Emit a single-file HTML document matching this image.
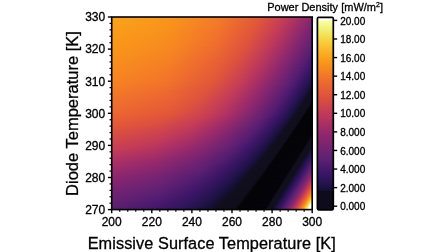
<!DOCTYPE html>
<html><head><meta charset="utf-8"><style>
html,body{margin:0;padding:0;background:#fff;width:448px;height:252px;overflow:hidden}
#f{position:absolute;left:112px;top:17px;width:200px;height:193px}
#f i{display:block;height:1px;width:200px}
</style></head><body>
<div id="f">
<i style="background:linear-gradient(90deg,#faa31c 0.5px,#f9941b 64.0px,#f37729 112.5px,#e15639 149.0px,#c0395a 175.0px,#8a266f 199.5px)"></i>
<i style="background:linear-gradient(90deg,#faa31c 0.5px,#f9941b 62.5px,#f37828 109.5px,#e25738 147.0px,#c23a59 173.5px,#882670 199.5px)"></i>
<i style="background:linear-gradient(90deg,#faa11b 0.5px,#f9951a 56.5px,#f47c26 104.5px,#e35937 144.0px,#d1454b 162.5px,#b13362 181.0px,#872670 199.5px)"></i>
<i style="background:linear-gradient(90deg,#faa11b 0.5px,#f9951a 55.5px,#f47a27 106.0px,#e35838 145.0px,#c43c57 170.5px,#96296c 192.0px,#852570 199.5px)"></i>
<i style="background:linear-gradient(90deg,#faa11b 0.5px,#f9941b 59.0px,#f37828 107.0px,#e15639 146.5px,#c0395a 172.5px,#832570 199.5px)"></i>
<i style="background:linear-gradient(90deg,#faa11b 0.5px,#f9921c 62.5px,#f2752a 110.5px,#e0553a 147.0px,#c0395a 172.0px,#822571 199.5px)"></i>
<i style="background:linear-gradient(90deg,#faa11b 0.5px,#f9921c 61.0px,#f37729 107.5px,#e25738 144.0px,#c23a59 170.5px,#832570 198.0px,#802471 199.5px)"></i>
<i style="background:linear-gradient(90deg,#fa9f1a 0.5px,#f9941b 55.5px,#f37828 105.0px,#e15639 144.5px,#c33b58 169.0px,#852570 197.0px,#7f2471 199.5px)"></i>
<i style="background:linear-gradient(90deg,#fa9f1a 0.5px,#f9921c 59.0px,#f37729 106.0px,#e25738 142.5px,#c0395a 170.0px,#822571 197.5px,#7d2471 199.5px)"></i>
<i style="background:linear-gradient(90deg,#fa9f1a 0.5px,#f9921c 57.5px,#f37729 105.5px,#e15639 143.0px,#c23a59 168.5px,#872670 195.0px,#7b2471 199.5px)"></i>
<i style="background:linear-gradient(90deg,#fa9f1a 0.5px,#f8901d 61.0px,#f2752a 106.5px,#e15639 142.5px,#c23a59 168.0px,#852670 195.5px,#7a2372 199.5px)"></i>
<i style="background:linear-gradient(90deg,#fa9d19 0.5px,#f9941b 50.0px,#f47a27 99.5px,#e25838 139.5px,#c63d56 165.0px,#93286d 188.5px,#782372 199.5px)"></i>
<i style="background:linear-gradient(90deg,#fa9d1a 0.5px,#f9921c 54.0px,#f37729 103.0px,#e15639 141.5px,#c0395a 167.5px,#832570 194.5px,#772372 199.5px)"></i>
<i style="background:linear-gradient(90deg,#fa9d1a 0.5px,#f8901d 57.5px,#f2752a 104.5px,#e15639 140.5px,#c0395a 167.0px,#802471 195.0px,#752372 199.5px)"></i>
<i style="background:linear-gradient(90deg,#fa9d1a 0.5px,#f8901d 56.5px,#f2752a 103.5px,#e0553a 141.0px,#c23a59 165.5px,#832570 193.5px,#742272 199.5px)"></i>
<i style="background:linear-gradient(90deg,#fa9d1a 0.5px,#f88e1e 59.5px,#f1722b 107.0px,#df533b 141.5px,#be385b 166.5px,#7f2471 194.5px,#722272 199.5px)"></i>
<i style="background:linear-gradient(90deg,#fa9b19 0.5px,#f9921c 49.0px,#f37828 98.0px,#e25738 137.5px,#c0395a 165.5px,#832570 192.0px,#712272 199.5px)"></i>
<i style="background:linear-gradient(90deg,#fa9b19 0.5px,#f8901d 52.5px,#f37729 99.0px,#e15639 138.0px,#c0395a 164.5px,#822571 192.0px,#6f2273 199.5px)"></i>
<i style="background:linear-gradient(90deg,#fa9b19 0.5px,#f88e1e 56.0px,#f2742a 102.5px,#e0553a 138.5px,#c23a59 163.0px,#822571 191.5px,#6d2273 199.5px)"></i>
<i style="background:linear-gradient(90deg,#fa9b19 0.5px,#f78c1f 59.5px,#f1712c 105.5px,#df533b 139.0px,#bd385c 165.0px,#802471 191.5px,#6e2273 199.5px)"></i>
<i style="background:linear-gradient(90deg,#fa9b1a 0.5px,#f88c1f 58.0px,#f1722b 103.0px,#df533b 138.5px,#be385b 163.5px,#802471 191.0px,#6c2273 199.5px)"></i>
<i style="background:linear-gradient(90deg,#fa9919 0.5px,#f88e1e 52.5px,#f2752a 98.0px,#e15639 135.5px,#c0395a 162.0px,#832570 189.5px,#6a2273 199.5px)"></i>
<i style="background:linear-gradient(90deg,#fa9919 0.5px,#f88e1e 51.5px,#f2742a 99.5px,#df533b 137.0px,#c23a59 160.5px,#822571 189.0px,#692273 199.5px)"></i>
<i style="background:linear-gradient(90deg,#fa9919 0.5px,#f88c1f 54.5px,#f2742a 98.5px,#e0553a 135.5px,#be385b 162.0px,#802471 189.0px,#672273 199.5px)"></i>
<i style="background:linear-gradient(90deg,#fa991a 0.5px,#f78b1f 58.0px,#ef6e2d 105.5px,#dc513e 138.0px,#be385b 161.0px,#7f2471 189.0px,#642173 199.5px)"></i>
<i style="background:linear-gradient(90deg,#fa991a 0.5px,#f78920 61.0px,#ef6c2e 107.0px,#dd513e 137.5px,#be385b 160.5px,#802471 188.0px,#632173 199.5px)"></i>
<i style="background:linear-gradient(90deg,#f9971a 0.5px,#f88c1f 51.0px,#f2742a 96.5px,#e0553a 133.5px,#c0395a 159.0px,#832570 186.0px,#612173 199.5px)"></i>
<i style="background:linear-gradient(90deg,#f9971a 0.5px,#f78b1f 54.5px,#f1712c 99.5px,#df533b 134.0px,#bd385c 160.0px,#802571 187.0px,#602173 199.5px)"></i>
<i style="background:linear-gradient(90deg,#f9971a 0.5px,#f78920 57.5px,#ef6e2e 102.5px,#dc513e 135.5px,#be385b 158.5px,#802471 186.0px,#5e2173 199.5px)"></i>
<i style="background:linear-gradient(90deg,#f9971a 0.5px,#f78721 60.5px,#ee6b2f 105.5px,#dd513e 135.0px,#bd385c 159.0px,#7f2471 186.0px,#5d2173 199.5px)"></i>
<i style="background:linear-gradient(90deg,#f9971a 0.5px,#f68622 63.0px,#eb6531 111.5px,#dc513e 134.0px,#c0395a 156.5px,#832570 184.0px,#5b2072 199.5px)"></i>
<i style="background:linear-gradient(90deg,#f9951a 0.5px,#f78b1f 50.0px,#f1712c 96.5px,#de523c 132.5px,#bd385c 157.5px,#7f2471 185.0px,#592072 199.5px)"></i>
<i style="background:linear-gradient(90deg,#f9951a 0.5px,#f78920 53.0px,#ef6e2d 99.5px,#dd513e 133.0px,#be385b 156.0px,#802471 183.5px,#581f72 199.5px)"></i>
<i style="background:linear-gradient(90deg,#f9951a 0.5px,#f68622 59.5px,#ec6731 107.5px,#dc513e 132.0px,#be385b 155.5px,#7f2471 183.5px,#561f72 199.5px)"></i>
<i style="background:linear-gradient(90deg,#f9941a 0.5px,#f78920 49.5px,#f06f2d 96.0px,#de523c 130.0px,#be385b 155.0px,#822571 182.0px,#551e71 199.5px)"></i>
<i style="background:linear-gradient(90deg,#f9941b 0.5px,#f68622 56.5px,#ed6830 104.0px,#dc513e 130.5px,#be385b 154.0px,#802571 182.0px,#531d71 199.5px)"></i>
<i style="background:linear-gradient(90deg,#f9941b 0.5px,#f68422 59.0px,#ea6332 110.0px,#db503f 131.0px,#bb375d 155.0px,#7f2471 182.0px,#511c71 199.5px)"></i>
<i style="background:linear-gradient(90deg,#f9921b 0.5px,#f78721 49.0px,#ef6e2d 95.0px,#dc513e 129.0px,#bd385c 153.5px,#7f2471 181.0px,#531d71 198.5px,#501b70 199.5px)"></i>
<i style="background:linear-gradient(90deg,#f9921b 0.5px,#f68422 56.0px,#eb6432 106.5px,#dd513e 128.5px,#bd385c 153.0px,#802571 180.0px,#531d71 197.5px,#4e1a70 199.5px)"></i>
<i style="background:linear-gradient(90deg,#f9921b 0.5px,#f68223 58.0px,#e96233 109.0px,#dc513e 127.5px,#bd385c 152.5px,#822571 179.0px,#511c71 197.5px,#4d1a6f 199.5px)"></i>
<i style="background:linear-gradient(90deg,#f8901c 0.5px,#f68422 52.5px,#ed6830 99.5px,#dd513e 127.0px,#bd385c 151.5px,#802471 178.5px,#531d71 196.5px,#4b196f 199.5px)"></i>
<i style="background:linear-gradient(90deg,#f8901c 0.5px,#f68223 55.0px,#eb6531 102.0px,#dc513e 126.0px,#bd385c 151.0px,#7f2471 178.5px,#531d71 196.0px,#49186e 199.5px)"></i>
<i style="background:linear-gradient(90deg,#f8901c 0.5px,#f58124 57.5px,#e85f34 109.5px,#db503f 126.5px,#bd385c 150.5px,#822571 177.0px,#511c71 196.0px,#46176d 199.5px)"></i>
<i style="background:linear-gradient(90deg,#f8901d 0.5px,#f57f25 59.5px,#e75e35 110.0px,#da4e40 127.0px,#bb375d 150.5px,#802571 177.0px,#511c71 195.0px,#44176c 199.5px)"></i>
<i style="background:linear-gradient(90deg,#f88e1d 0.5px,#f58124 54.5px,#e86034 106.0px,#db503f 125.0px,#bd385c 149.0px,#7f2471 176.5px,#531d71 194.0px,#42166b 199.5px)"></i>
<i style="background:linear-gradient(90deg,#f88e1e 0.5px,#f57f25 57.0px,#e75e35 108.5px,#da4e40 125.5px,#bb375d 149.0px,#7d2471 176.5px,#531d71 193.5px,#41166a 199.5px)"></i>
<i style="background:linear-gradient(90deg,#f88e1e 0.5px,#f57d26 59.0px,#e65d35 109.0px,#da4e40 124.5px,#bd385c 147.5px,#802571 175.0px,#511c71 193.5px,#3f1669 199.5px)"></i>
<i style="background:linear-gradient(90deg,#f88c1f 0.5px,#f57f25 54.0px,#e75e35 106.5px,#db503f 122.5px,#be385b 146.0px,#802471 174.0px,#511c71 192.5px,#3d1568 199.5px)"></i>
<i style="background:linear-gradient(90deg,#f88c1f 0.5px,#f57d26 56.0px,#e65d35 107.5px,#d94d42 124.5px,#bb375d 147.0px,#7f2471 174.0px,#531d71 191.5px,#3c1567 199.5px)"></i>
<i style="background:linear-gradient(90deg,#f78c1f 0.5px,#f47c26 58.5px,#e55c36 108.0px,#d84c43 124.5px,#bb375d 146.5px,#7d2471 174.0px,#531d71 191.0px,#3a1566 199.5px)"></i>
<i style="background:linear-gradient(90deg,#f78a20 0.5px,#f57d25 53.5px,#e75e35 104.0px,#da4e40 121.5px,#bb375d 145.5px,#7d2471 173.5px,#511c71 190.5px,#381564 199.5px)"></i>
<i style="background:linear-gradient(90deg,#f78b20 0.5px,#f47c26 55.5px,#e65d35 105.0px,#d94d42 122.0px,#bb375d 145.0px,#7f2471 172.0px,#511c71 190.0px,#361563 199.5px)"></i>
<i style="background:linear-gradient(90deg,#f78b1f 0.5px,#f47a27 57.5px,#e55c36 105.5px,#d84c43 122.5px,#ba365e 145.0px,#7d2471 172.5px,#531d71 189.0px,#361563 198.5px,#351561 199.5px)"></i>
<i style="background:linear-gradient(90deg,#f78920 0.5px,#f47c26 52.5px,#e65d36 103.0px,#d94d42 120.5px,#bb375d 143.5px,#7d2471 171.5px,#531d71 188.5px,#351561 198.5px,#331560 199.5px)"></i>
<i style="background:linear-gradient(90deg,#f78920 0.5px,#f47a27 55.0px,#e55c36 104.0px,#d84c43 121.0px,#bb375d 143.0px,#7f2471 170.5px,#511c71 188.0px,#351561 198.0px,#2f155c 199.5px)"></i>
<i style="background:linear-gradient(90deg,#f78920 0.5px,#f37828 57.0px,#e45a37 104.5px,#d64a46 122.5px,#ba365e 143.0px,#7d2471 170.5px,#511c71 187.5px,#351561 197.5px,#2d155a 199.5px)"></i>
<i style="background:linear-gradient(90deg,#f78721 0.5px,#f47a27 52.0px,#e55c36 102.0px,#d94d42 118.5px,#bb375d 141.5px,#7d2471 169.5px,#531d71 186.5px,#361563 196.0px,#2c1558 199.5px)"></i>
<i style="background:linear-gradient(90deg,#f78721 0.5px,#f37828 54.0px,#e45a37 103.0px,#d54947 122.0px,#b8355f 142.5px,#7b2471 170.0px,#531d71 186.0px,#351561 196.0px,#2a1556 199.5px)"></i>
<i style="background:linear-gradient(90deg,#f78721 0.5px,#f37729 56.0px,#e35937 103.5px,#cd424f 128.0px,#ac3164 147.5px,#6f2273 174.0px,#501b70 186.5px,#331560 196.0px,#281554 199.5px)"></i>
<i style="background:linear-gradient(90deg,#f68522 0.5px,#f37828 51.5px,#e45a37 101.0px,#d84c43 117.0px,#b8355f 141.5px,#7d2471 167.5px,#531d71 184.5px,#361563 194.5px,#271451 199.5px)"></i>
<i style="background:linear-gradient(90deg,#f68522 0.5px,#f2752a 57.0px,#e25838 103.0px,#c83f53 130.5px,#a22d68 151.0px,#612173 178.5px,#3d1568 191.5px,#25144f 199.5px)"></i>
<i style="background:linear-gradient(90deg,#f68622 0.5px,#f2752a 55.5px,#e25838 102.5px,#c63d56 131.5px,#a12c69 151.0px,#602173 178.5px,#3d1568 191.0px,#23144d 199.5px)"></i>
<i style="background:linear-gradient(90deg,#f68423 0.5px,#f37729 50.5px,#e45a37 98.5px,#d74b44 116.0px,#b8355f 139.0px,#7a2372 167.0px,#511c71 183.0px,#351561 193.0px,#21144a 199.5px)"></i>
<i style="background:linear-gradient(90deg,#f68422 0.5px,#f2742a 56.0px,#e25738 102.0px,#c63d56 130.5px,#98296c 153.5px,#581f72 180.0px,#3a1566 190.5px,#23144d 198.0px,#201348 199.5px)"></i>
<i style="background:linear-gradient(90deg,#f68422 0.5px,#f1722b 58.0px,#e15639 103.0px,#c43c57 130.5px,#96296c 153.5px,#561f72 180.0px,#381564 190.5px,#22144a 198.0px,#1e1345 199.5px)"></i>
<i style="background:linear-gradient(90deg,#f68223 0.5px,#f1722b 56.0px,#e15639 101.5px,#c63d56 128.5px,#9f2c69 149.0px,#5e2173 176.5px,#3c1567 189.0px,#22144a 197.5px,#1c1242 199.5px)"></i>
<i style="background:linear-gradient(90deg,#f58024 0.5px,#f2742a 50.5px,#e25838 97.5px,#c83e53 126.0px,#a12c69 147.5px,#602173 175.0px,#3d1568 187.5px,#271451 195.0px,#1b1240 199.5px)"></i>
<i style="background:linear-gradient(90deg,#f58124 0.5px,#f1712c 55.0px,#e15639 99.5px,#c43c57 128.0px,#95286d 152.0px,#561f72 178.0px,#381564 188.5px,#1e1345 197.5px,#18113b 199.5px)"></i>
<i style="background:linear-gradient(90deg,#f57f25 0.5px,#f1712c 53.0px,#e15639 98.5px,#c43c57 127.0px,#9a2a6b 149.0px,#592072 176.5px,#3a1566 187.5px,#22144a 195.5px,#161038 199.5px)"></i>
<i style="background:linear-gradient(90deg,#f57f25 0.5px,#ef6e2d 57.5px,#df533b 100.0px,#c33b58 127.0px,#92286d 152.0px,#551e71 177.5px,#361563 188.0px,#1e1345 196.0px,#150f35 199.5px)"></i>
<i style="background:linear-gradient(90deg,#f57d26 0.5px,#f06f2d 52.0px,#e0553a 97.5px,#c23a59 127.5px,#882670 155.5px,#531d71 177.5px,#351561 188.0px,#161038 198.5px,#130f2e 199.5px)"></i>
<i style="background:linear-gradient(90deg,#f57d25 0.5px,#ee6b2f 59.5px,#de523c 99.5px,#c0395a 127.5px,#822571 157.5px,#511c71 177.0px,#351561 187.0px,#1c1242 195.5px,#140f34 198.5px,#110f24 199.5px)"></i>
<i style="background:linear-gradient(90deg,#f47c27 0.5px,#ef6c2e 54.5px,#de523c 98.5px,#c0395a 126.5px,#882670 154.0px,#531d71 176.0px,#361563 186.0px,#1e1345 194.0px,#140f32 198.0px,#110f1e 199.5px)"></i>
<i style="background:linear-gradient(90deg,#f47a28 0.5px,#ef6e2d 49.0px,#e0553a 94.0px,#c63d56 121.5px,#a12c69 142.0px,#602173 170.5px,#3d1568 183.0px,#25144f 191.0px,#150f35 197.0px,#110f1d 199.0px,#110f1d 199.5px)"></i>
<i style="background:linear-gradient(90deg,#f47a27 0.5px,#ed692f 56.5px,#de523c 96.0px,#c0395a 125.0px,#802471 156.0px,#511c71 175.0px,#351561 185.0px,#22144a 191.5px,#150f34 196.5px,#110f20 198.0px,#110f1d 199.5px)"></i>
<i style="background:linear-gradient(90deg,#f37828 0.5px,#ee6b2f 51.5px,#de523c 95.0px,#c0395a 124.0px,#8a266f 151.0px,#531d71 174.0px,#361563 184.0px,#201348 191.5px,#140f33 196.0px,#110f1e 197.5px,#110f1d 199.5px)"></i>
<i style="background:linear-gradient(90deg,#f37828 0.5px,#eb6531 61.5px,#dc513e 95.0px,#c23a59 122.0px,#8d276f 149.0px,#531d71 173.0px,#361563 183.5px,#1d1343 192.0px,#140f31 195.5px,#110f1e 197.0px,#110f1d 199.5px)"></i>
<i style="background:linear-gradient(90deg,#f37729 0.5px,#ec6731 57.0px,#dc513e 94.0px,#c23a59 121.0px,#92286d 146.0px,#551e71 172.0px,#361563 182.5px,#1e1345 191.0px,#150f35 194.5px,#110f1d 196.5px,#110f1d 199.5px)"></i>
<i style="background:linear-gradient(90deg,#f37729 0.5px,#ea6332 63.5px,#dd513e 93.0px,#c23a59 120.0px,#93286d 144.5px,#551e71 171.0px,#381564 181.5px,#22144a 189.0px,#140f34 194.0px,#110f1f 195.5px,#110f1d 199.5px)"></i>
<i style="background:linear-gradient(90deg,#f2752a 0.5px,#eb6432 59.0px,#dd513e 92.0px,#c0395a 120.5px,#872670 149.5px,#511c71 172.0px,#351561 182.0px,#1e1345 189.5px,#140f32 193.5px,#110f1e 195.0px,#110f1d 199.5px)"></i>
<i style="background:linear-gradient(90deg,#f2742b 0.5px,#eb6631 54.5px,#dc513e 90.5px,#c0395a 119.5px,#8a266f 147.5px,#531d71 170.5px,#361563 180.5px,#23144d 187.0px,#150f35 192.5px,#110f1d 194.5px,#110f1d 199.5px)"></i>
<i style="background:linear-gradient(90deg,#f2742a 0.5px,#e96233 61.0px,#dd513e 89.5px,#c0395a 118.5px,#8f276e 144.5px,#531d71 170.0px,#361563 180.0px,#1c1242 189.0px,#150f34 192.0px,#110f20 193.5px,#110f1d 199.5px)"></i>
<i style="background:linear-gradient(90deg,#f1722b 0.5px,#ea6332 56.5px,#dd513e 88.5px,#c0395a 117.5px,#8d276f 144.5px,#531d71 169.0px,#361563 179.5px,#1e1345 187.5px,#140f33 191.5px,#110f1e 193.0px,#110f1d 199.5px)"></i>
<i style="background:linear-gradient(90deg,#f1722b 0.5px,#e86034 60.0px,#dd513e 87.0px,#c0395a 117.0px,#872670 146.5px,#531d71 168.5px,#361563 178.5px,#201348 186.5px,#140f31 191.0px,#110f1e 192.5px,#110f1d 199.5px)"></i>
<i style="background:linear-gradient(90deg,#f0712c 0.5px,#e86034 58.5px,#db503f 87.5px,#be385b 117.0px,#852570 146.5px,#511c71 168.5px,#351561 178.5px,#1c1242 187.0px,#150f35 190.0px,#110f1d 192.0px,#100e1b 199.5px)"></i>
<i style="background:linear-gradient(90deg,#f1712c 0.5px,#e75e35 62.0px,#db503f 86.5px,#be385b 116.0px,#852570 146.0px,#531d71 167.0px,#361563 177.5px,#201348 185.0px,#140f34 189.5px,#110f1f 191.0px,#0f0d1a 199.0px,#0b0a14 199.5px)"></i>
<i style="background:linear-gradient(90deg,#f06f2d 0.5px,#e85f34 57.5px,#db503f 85.0px,#c0395a 114.0px,#92286d 139.0px,#551e71 166.0px,#361563 176.5px,#201348 184.5px,#140f32 189.0px,#110f1e 190.5px,#110f1c 198.0px,#06050c 199.5px)"></i>
<i style="background:linear-gradient(90deg,#ef6e2e 0.5px,#e85f34 56.0px,#db503f 84.0px,#c0395a 113.0px,#8f276e 140.0px,#531d71 166.0px,#361563 176.0px,#1e1345 184.5px,#150f35 188.0px,#110f1d 190.0px,#100e1c 197.5px,#030308 199.5px)"></i>
<i style="background:linear-gradient(90deg,#ef6e2e 0.5px,#e65d35 59.5px,#da4e40 84.5px,#bd385c 114.5px,#822571 145.0px,#531d71 165.0px,#361563 175.5px,#201348 183.0px,#150f34 187.5px,#110f20 189.0px,#0f0e1b 197.0px,#030308 199.0px,#030308 199.5px)"></i>
<i style="background:linear-gradient(90deg,#ef6c2f 0.5px,#e75e35 55.0px,#db503f 81.5px,#be385b 112.5px,#882670 141.5px,#531d71 164.5px,#351561 175.5px,#1e1345 183.0px,#140f33 187.0px,#110f1e 188.5px,#110f1d 196.0px,#040409 198.0px,#030308 199.5px)"></i>
<i style="background:linear-gradient(90deg,#ef6c2e 0.5px,#e45a37 61.0px,#d94d42 83.5px,#be385b 111.5px,#8f276e 137.5px,#531d71 163.5px,#361563 174.0px,#1e1345 182.5px,#140f31 186.5px,#110f1e 188.0px,#110f1c 195.5px,#030308 197.5px,#030308 199.5px)"></i>
<i style="background:linear-gradient(90deg,#ee6b2f 0.5px,#e55c36 57.0px,#da4e40 80.5px,#c0395a 109.5px,#8d276f 137.5px,#531d71 163.0px,#361563 173.5px,#1c1242 182.5px,#150f35 185.5px,#110f1d 187.5px,#100e1b 195.0px,#030308 197.0px,#030308 199.5px)"></i>
<i style="background:linear-gradient(90deg,#ee6b2f 0.5px,#e35838 63.0px,#cc4150 97.5px,#b03263 119.0px,#722272 149.0px,#511c71 163.0px,#351561 173.5px,#19113d 183.0px,#140f34 185.0px,#110f1f 186.5px,#0f0e1a 194.5px,#030308 196.5px,#030308 199.5px)"></i>
<i style="background:linear-gradient(90deg,#ed6930 0.5px,#e35838 61.5px,#cc4150 96.5px,#b03263 118.0px,#722272 148.5px,#511c71 162.5px,#351561 172.5px,#1e1345 180.5px,#140f32 184.5px,#110f1e 186.0px,#110f1d 193.5px,#040309 195.5px,#030308 199.5px)"></i>
<i style="background:linear-gradient(90deg,#ed6831 0.5px,#e45a37 54.5px,#d84c43 80.5px,#bd385c 109.0px,#832570 140.0px,#531d71 161.0px,#361563 171.5px,#1c1242 180.5px,#150f35 183.5px,#110f1d 185.5px,#100f1c 193.0px,#030308 195.0px,#030308 199.5px)"></i>
<i style="background:linear-gradient(90deg,#ed6830 0.5px,#e25738 60.5px,#cb4051 96.0px,#ab3065 119.0px,#6a2273 150.5px,#4e1b70 162.0px,#331560 172.0px,#1b1240 180.5px,#150f34 183.0px,#110f20 184.5px,#100e1b 192.5px,#030308 194.5px,#030308 199.5px)"></i>
<i style="background:linear-gradient(90deg,#ec6731 0.5px,#e25738 58.5px,#cb4051 94.5px,#ae3163 116.5px,#6f2273 147.5px,#511c71 160.0px,#361563 170.0px,#1e1345 178.5px,#161038 182.0px,#110f1e 184.0px,#0f0d1a 192.0px,#040409 193.5px,#030308 199.5px)"></i>
<i style="background:linear-gradient(90deg,#eb6532 0.5px,#e15639 58.0px,#c93f52 94.0px,#ac3164 116.0px,#6d2273 147.0px,#511c71 159.5px,#351561 170.0px,#1b1240 179.0px,#150f35 181.5px,#110f1d 183.5px,#110f1c 191.0px,#030309 193.0px,#030308 199.5px)"></i>
<i style="background:linear-gradient(90deg,#eb6432 0.5px,#e0553a 57.5px,#c83f53 93.5px,#ab3065 115.5px,#6a2273 147.5px,#501b70 159.0px,#351561 169.0px,#1e1345 177.0px,#140f33 181.0px,#110f1f 182.5px,#100e1b 190.5px,#030308 192.5px,#030308 199.5px)"></i>
<i style="background:linear-gradient(90deg,#ea6333 0.5px,#df533b 57.5px,#c73e55 93.5px,#a22d68 119.0px,#612173 151.0px,#3f1669 164.5px,#271451 173.0px,#150f35 180.0px,#110f1d 182.0px,#0f0d1a 190.0px,#040409 191.5px,#030308 199.5px)"></i>
<i style="background:linear-gradient(90deg,#e96233 0.5px,#de523c 57.0px,#c63d56 93.0px,#a12c69 118.5px,#5e2173 151.0px,#3d1568 164.0px,#271451 172.5px,#140f33 179.5px,#110f1f 181.0px,#100f1c 189.0px,#030309 191.0px,#030308 199.5px)"></i>
<i style="background:linear-gradient(90deg,#e86034 0.5px,#de523c 54.0px,#c73e55 89.5px,#a62e67 114.5px,#662273 147.0px,#41166a 162.0px,#281454 171.0px,#150f35 178.5px,#110f1e 180.5px,#100e1b 188.5px,#030308 190.5px,#030308 199.5px)"></i>
<i style="background:linear-gradient(90deg,#e85f35 0.5px,#de523c 51.0px,#c73e55 88.0px,#a22d68 115.0px,#612173 148.0px,#3d1568 162.5px,#25144f 171.5px,#140f33 178.0px,#110f1f 179.5px,#0f0d19 188.0px,#030308 190.0px,#030308 199.5px)"></i>
<i style="background:linear-gradient(90deg,#e75e35 0.5px,#de523c 47.5px,#c73e55 86.0px,#a62e67 111.5px,#642173 145.5px,#41166a 160.5px,#2a1556 168.5px,#150f35 177.0px,#110f1e 179.0px,#100e1c 187.0px,#030309 189.0px,#030308 199.5px)"></i>
<i style="background:linear-gradient(90deg,#e65d36 0.5px,#de523c 44.5px,#c73e55 84.0px,#a62e67 110.0px,#642173 144.5px,#41166a 159.5px,#281554 168.5px,#140f33 176.5px,#110f20 178.0px,#0f0e1b 186.5px,#030308 188.5px,#030308 199.5px)"></i>
<i style="background:linear-gradient(90deg,#e55b36 0.5px,#dd513e 44.0px,#c63d56 83.5px,#a42d68 109.5px,#642173 143.5px,#41166a 158.5px,#2a1556 167.0px,#150f35 175.5px,#110f1e 177.5px,#110f1d 185.5px,#030308 188.0px,#030308 199.5px)"></i>
<i style="background:linear-gradient(90deg,#e45a37 0.5px,#dd513e 40.5px,#c73e55 80.0px,#a72f66 106.0px,#672273 141.0px,#501b70 151.5px,#351561 162.5px,#18113b 173.5px,#140f33 175.0px,#110f20 176.5px,#100e1c 185.0px,#030309 187.0px,#030308 199.5px)"></i>
<i style="background:linear-gradient(90deg,#e35938 0.5px,#dd513e 37.0px,#c73e55 78.0px,#a72f66 104.5px,#672273 140.0px,#4e1a70 151.5px,#331560 162.0px,#1b1240 171.5px,#150f35 174.0px,#110f1e 176.0px,#0f0e1a 184.5px,#030308 186.5px,#030308 199.5px)"></i>
<i style="background:linear-gradient(90deg,#e25838 0.5px,#db503f 36.5px,#c63d56 77.5px,#a62e67 104.0px,#692273 138.0px,#501b70 150.0px,#351561 160.5px,#1c1242 170.0px,#140f33 173.5px,#110f20 175.0px,#110f1c 183.5px,#030308 186.0px,#030308 199.5px)"></i>
<i style="background:linear-gradient(90deg,#e15739 0.5px,#d94d42 39.5px,#c33b58 79.0px,#9d2b6a 108.0px,#602173 141.5px,#3d1568 156.5px,#271451 165.0px,#150f35 172.5px,#110f1e 174.5px,#100e1b 183.0px,#030308 185.0px,#030308 199.5px)"></i>
<i style="background:linear-gradient(90deg,#e15639 0.5px,#d54947 48.0px,#bd385c 83.0px,#90286e 115.0px,#551e71 146.0px,#381564 157.5px,#201348 167.0px,#140f33 172.0px,#110f20 173.5px,#0f0d1a 182.5px,#030308 184.5px,#030308 199.5px)"></i>
<i style="background:linear-gradient(90deg,#e0553a 0.5px,#d2474a 50.0px,#bb375d 82.5px,#92286d 112.5px,#551e71 145.0px,#361563 157.5px,#1c1243 167.5px,#150f35 171.0px,#110f1e 173.0px,#100f1c 181.5px,#030308 184.0px,#030308 199.5px)"></i>
<i style="background:linear-gradient(90deg,#df543b 0.5px,#d0444c 52.5px,#ba365e 82.0px,#90286e 112.0px,#551e71 144.0px,#361563 156.5px,#1e1345 166.0px,#140f33 170.5px,#110f20 172.0px,#100e1b 181.0px,#030308 183.0px,#030308 199.5px)"></i>
<i style="background:linear-gradient(90deg,#dd523c 0.5px,#d0444c 49.5px,#b8355f 82.0px,#882670 115.5px,#531d71 143.5px,#361563 155.5px,#1e1345 165.5px,#150f35 169.5px,#110f1e 171.5px,#0f0d1a 180.5px,#030308 182.5px,#030308 199.5px)"></i>
<i style="background:linear-gradient(90deg,#dc513e 0.5px,#cf434d 49.0px,#ba365e 78.5px,#8b276f 112.5px,#531d71 142.5px,#361563 155.0px,#1e1345 164.5px,#140f33 169.0px,#110f20 170.5px,#100e1c 179.5px,#030308 182.0px,#030308 199.5px)"></i>
<i style="background:linear-gradient(90deg,#db503f 0.5px,#cd424f 48.5px,#b8355f 78.0px,#8d276f 110.0px,#531d71 141.5px,#361563 154.0px,#1c1242 164.5px,#150f35 168.0px,#110f1e 170.0px,#0f0e1b 179.0px,#030308 181.0px,#030308 199.5px)"></i>
<i style="background:linear-gradient(90deg,#da4f40 0.5px,#cc4150 48.5px,#b53460 79.0px,#882670 111.5px,#531d71 140.5px,#361563 153.0px,#1e1345 163.0px,#140f33 167.5px,#110f20 169.0px,#110f1c 178.0px,#030308 180.5px,#030308 199.5px)"></i>
<i style="background:linear-gradient(90deg,#d94d42 0.5px,#cb4051 48.0px,#b53460 77.0px,#872670 111.5px,#531d71 139.5px,#361563 152.0px,#201348 161.5px,#150f35 166.5px,#110f1e 168.5px,#100e1c 177.5px,#040409 179.5px,#030308 199.5px)"></i>
<i style="background:linear-gradient(90deg,#d84c43 0.5px,#ca3f52 47.5px,#b13362 78.5px,#7d2471 116.0px,#531d71 138.5px,#381564 150.5px,#21144a 160.0px,#140f32 166.0px,#110f20 167.5px,#0f0d1a 177.0px,#030308 179.0px,#040409 199.0px,#07060d 199.5px)"></i>
<i style="background:linear-gradient(90deg,#d74b44 0.5px,#c73e55 50.0px,#ab3065 82.5px,#742372 120.0px,#531d71 137.5px,#361563 150.5px,#1e1345 160.5px,#150f34 165.0px,#110f1e 167.0px,#100f1c 176.0px,#030308 178.5px,#04040a 198.5px,#0c0b15 199.5px)"></i>
<i style="background:linear-gradient(90deg,#d64a46 0.5px,#c73e55 47.0px,#ae3163 77.5px,#7b2471 114.5px,#531d71 136.5px,#361563 149.5px,#201348 159.0px,#140f32 164.5px,#110f20 166.0px,#100e1b 175.5px,#040409 177.5px,#05050b 198.0px,#100e1c 199.5px)"></i>
<i style="background:linear-gradient(90deg,#d54947 0.5px,#c63d56 46.5px,#ab3065 79.0px,#772372 116.0px,#531d71 135.5px,#361563 148.5px,#1e1345 159.0px,#140f34 163.5px,#110f1e 165.5px,#0f0d1a 175.0px,#030308 177.0px,#030308 197.0px,#110f1d 199.0px,#110f1d 199.5px)"></i>
<i style="background:linear-gradient(90deg,#d34848 0.5px,#c43c57 46.5px,#a72f66 80.0px,#752372 115.5px,#531d71 134.5px,#361563 148.0px,#1c1242 159.0px,#140f32 163.0px,#110f20 164.5px,#100e1c 174.0px,#030308 176.5px,#040409 196.5px,#110f1d 198.5px,#110f1d 199.5px)"></i>
<i style="background:linear-gradient(90deg,#d24749 0.5px,#c23a59 48.5px,#a22d68 82.5px,#6f2273 118.0px,#511c71 134.5px,#351561 147.5px,#1c1243 158.0px,#140f34 162.0px,#110f1e 164.0px,#0f0e1b 173.5px,#040309 175.5px,#04040a 196.0px,#110f1d 198.0px,#110f1d 199.5px)"></i>
<i style="background:linear-gradient(90deg,#d1454b 0.5px,#c23a59 45.5px,#a22d68 80.5px,#712273 116.0px,#511c71 133.5px,#351561 147.0px,#18113b 159.5px,#140f31 161.5px,#110f20 163.0px,#110f1c 172.5px,#030308 175.0px,#05050b 195.5px,#100e1c 197.0px,#110f1d 199.5px)"></i>
<i style="background:linear-gradient(90deg,#d0444c 0.5px,#c0395a 45.5px,#a12c69 80.5px,#6c2273 117.5px,#511c71 132.5px,#361563 145.0px,#201348 155.0px,#140f33 160.5px,#110f1e 162.5px,#100e1b 172.0px,#030308 174.5px,#030308 194.5px,#110f1d 196.5px,#110f1d 199.5px)"></i>
<i style="background:linear-gradient(90deg,#cf434d 0.5px,#be385b 45.0px,#9f2c69 80.0px,#6a2273 117.5px,#501b70 132.5px,#351561 145.0px,#18113b 158.0px,#150f35 159.5px,#110f1d 162.0px,#0f0d1a 171.5px,#030309 173.5px,#040409 194.0px,#110f1d 196.0px,#110f1d 199.5px)"></i>
<i style="background:linear-gradient(90deg,#cd424e 0.5px,#be385b 42.0px,#9f2c69 78.5px,#692273 117.0px,#511c71 130.5px,#351561 144.0px,#1e1345 154.0px,#140f33 159.0px,#110f1e 161.0px,#100e1c 170.5px,#030308 173.0px,#04040a 193.5px,#110f1d 195.5px,#110f1d 199.5px)"></i>
<i style="background:linear-gradient(90deg,#cc4150 0.5px,#bd385c 42.0px,#9c2a6b 79.5px,#642273 119.0px,#41166a 137.5px,#281554 148.5px,#150f34 158.0px,#110f1f 160.0px,#100e1b 170.0px,#030308 172.5px,#05050b 193.0px,#100e1c 194.5px,#110f1d 199.5px)"></i>
<i style="background:linear-gradient(90deg,#cb4051 0.5px,#bb375d 41.0px,#9a2a6b 79.0px,#672273 115.5px,#4d1a6f 131.0px,#31155e 144.0px,#150f35 157.0px,#110f1e 159.5px,#110f1c 169.0px,#030308 171.5px,#030308 192.0px,#110f1d 194.0px,#110f1e 199.5px)"></i>
<i style="background:linear-gradient(90deg,#ca3f52 0.5px,#b8355f 42.5px,#98296c 78.0px,#642173 116.0px,#4b196f 130.5px,#31155e 143.0px,#150f36 156.0px,#110f1d 159.0px,#100e1b 168.5px,#030308 171.0px,#040409 191.5px,#110f1d 193.5px,#110f1f 199.0px,#120f29 199.5px)"></i>
<i style="background:linear-gradient(90deg,#c73e54 0.5px,#b8355f 39.0px,#98296c 76.0px,#662273 114.0px,#42166b 133.5px,#2c1558 144.5px,#150f35 155.5px,#110f1d 158.0px,#0f0d1a 168.0px,#040409 170.0px,#04040a 191.0px,#110f1d 193.0px,#110f1d 198.0px,#110f21 198.5px,#150f36 199.5px)"></i>
<i style="background:linear-gradient(90deg,#c63d56 0.5px,#b53460 40.5px,#95296d 77.0px,#602173 116.5px,#3d1568 135.0px,#271451 146.0px,#140f32 155.0px,#110f1e 157.0px,#100e1c 167.0px,#030308 169.5px,#05050b 190.5px,#100e1c 192.0px,#110f1d 197.5px,#161038 199.0px,#18113b 199.5px)"></i>
<i style="background:linear-gradient(90deg,#c43c57 0.5px,#b03263 44.5px,#882670 86.0px,#531d71 122.5px,#381564 136.5px,#21144a 147.5px,#140f34 154.0px,#110f1f 156.0px,#0f0e1a 166.5px,#030308 169.0px,#030308 189.5px,#110f1d 191.5px,#110f1e 197.0px,#140f33 198.0px,#1b1240 199.5px)"></i>
<i style="background:linear-gradient(90deg,#c13a59 0.5px,#b13362 39.0px,#90286e 77.0px,#5d2173 116.0px,#3c1567 134.0px,#23144d 145.5px,#150f35 153.0px,#110f1e 155.5px,#100e1c 165.5px,#030309 168.0px,#040409 189.0px,#110f1d 191.0px,#110f1f 196.5px,#150f35 197.5px,#1e1345 199.5px)"></i>
<i style="background:linear-gradient(90deg,#c0395a 0.5px,#ac3164 43.0px,#852570 85.0px,#531d71 120.5px,#361563 135.5px,#1c1242 148.0px,#140f32 152.5px,#110f1e 154.5px,#100e1b 165.0px,#030308 167.5px,#04040a 188.5px,#110f1d 190.5px,#110f1d 195.5px,#110f21 196.0px,#150f36 197.0px,#21144a 199.5px)"></i>
<i style="background:linear-gradient(90deg,#be385b 0.5px,#a92f65 44.5px,#822571 86.0px,#531d71 119.0px,#381564 133.5px,#22144a 144.5px,#140f34 151.5px,#110f1f 153.5px,#110f1c 164.0px,#030308 167.0px,#05050b 188.0px,#100e1c 189.5px,#110f1d 195.0px,#161038 196.5px,#25144f 199.5px)"></i>
<i style="background:linear-gradient(90deg,#bd385c 0.5px,#a62e67 46.0px,#7d2471 88.0px,#531d71 118.0px,#361563 133.5px,#1c1242 146.5px,#150f34 150.5px,#110f1e 153.0px,#100e1b 163.5px,#030308 166.0px,#030308 187.0px,#110f1d 189.0px,#110f1e 194.5px,#140f33 195.5px,#281554 199.5px)"></i>
<i style="background:linear-gradient(90deg,#ba365e 0.5px,#a72f66 40.5px,#822571 82.0px,#531d71 116.5px,#361563 132.5px,#1e1345 144.5px,#140f32 150.0px,#110f1e 152.0px,#0f0d1a 163.0px,#030308 165.5px,#040409 186.5px,#110f1d 188.5px,#110f1f 194.0px,#150f35 195.0px,#2c1558 199.5px)"></i>
<i style="background:linear-gradient(90deg,#b8355f 0.5px,#a42d68 42.0px,#802571 81.5px,#531d71 115.5px,#361563 131.5px,#1e1345 143.5px,#140f33 149.0px,#110f1d 151.5px,#100e1c 162.0px,#030309 164.5px,#04040a 186.0px,#110f1d 188.0px,#110f1d 193.0px,#110f21 193.5px,#150f36 194.5px,#31155e 199.5px)"></i>
<i style="background:linear-gradient(90deg,#b6355f 0.5px,#9f2c69 46.0px,#782372 86.5px,#531d71 114.0px,#361563 130.5px,#1c1242 143.5px,#150f34 148.0px,#110f1e 150.5px,#0f0d1a 161.5px,#030308 164.0px,#05050b 185.5px,#100e1c 187.0px,#110f1d 192.5px,#161038 194.0px,#351561 199.5px)"></i>
<i style="background:linear-gradient(90deg,#b33361 0.5px,#a12c69 40.5px,#7d2471 80.5px,#531d71 112.5px,#361563 129.0px,#21144a 140.0px,#150f35 147.0px,#110f1e 149.5px,#100e1c 160.5px,#030308 163.5px,#030308 184.5px,#110f1d 186.5px,#110f1e 192.0px,#140f33 193.0px,#331560 198.5px,#3a1566 199.5px)"></i>
<i style="background:linear-gradient(90deg,#b13362 0.5px,#9d2b6a 42.0px,#782372 83.0px,#531d71 111.5px,#361563 128.0px,#22144a 139.0px,#140f33 146.5px,#110f1d 149.0px,#0f0e1a 160.0px,#030308 162.5px,#040409 184.0px,#110f1d 186.0px,#110f1f 191.5px,#150f35 192.5px,#361563 198.5px,#3d1568 199.5px)"></i>
<i style="background:linear-gradient(90deg,#b03263 0.5px,#9a2a6b 43.5px,#772372 82.5px,#531d71 110.0px,#381564 126.0px,#22144a 138.0px,#140f34 145.5px,#110f1e 148.0px,#100e1c 159.0px,#030308 162.0px,#04040a 183.5px,#110f1d 185.5px,#110f1d 190.5px,#110f21 191.0px,#150f36 192.0px,#381564 198.0px,#42166b 199.5px)"></i>
<i style="background:linear-gradient(90deg,#ae3163 0.5px,#96296c 45.0px,#712273 86.0px,#531d71 109.0px,#361563 126.0px,#1e1345 139.0px,#150f34 144.5px,#110f1e 147.0px,#0f0e1b 158.5px,#030309 161.0px,#05050b 183.0px,#100e1c 184.5px,#110f1d 190.0px,#161038 191.5px,#381564 197.5px,#48186d 199.5px)"></i>
<i style="background:linear-gradient(90deg,#ab3065 0.5px,#98296c 39.5px,#752372 80.0px,#531d71 107.5px,#361563 125.0px,#1e1345 138.0px,#140f32 144.0px,#110f1f 146.0px,#100e1c 157.5px,#030308 160.5px,#030308 182.0px,#110f1d 184.0px,#110f1e 189.5px,#140f33 190.5px,#331560 196.0px,#4b196f 199.5px)"></i>
<i style="background:linear-gradient(90deg,#a92f65 0.5px,#93286d 43.5px,#6f2273 84.0px,#531d71 106.0px,#361563 124.0px,#1c1242 138.0px,#140f33 143.0px,#110f1e 145.5px,#100e1b 157.0px,#040309 159.5px,#040409 181.5px,#110f1d 183.5px,#110f1f 189.0px,#150f35 190.0px,#361563 196.0px,#501b70 199.5px)"></i>
<i style="background:linear-gradient(90deg,#a72f66 0.5px,#8d276f 49.5px,#642273 91.5px,#41166a 116.5px,#281454 130.5px,#140f34 142.0px,#110f1e 144.5px,#100f1c 156.0px,#030308 159.0px,#04040a 181.0px,#110f1d 183.0px,#110f1d 188.0px,#110f21 188.5px,#150f36 189.5px,#381564 195.5px,#551e71 199.5px)"></i>
<i style="background:linear-gradient(90deg,#a62e67 0.5px,#8a266f 51.0px,#632173 91.0px,#41166a 115.5px,#281454 129.5px,#150f34 141.0px,#110f1f 143.5px,#100e1b 155.5px,#030308 158.5px,#05050b 180.5px,#100e1c 182.0px,#110f1d 187.5px,#130f2f 188.5px,#161038 189.0px,#381564 195.0px,#592072 199.5px)"></i>
<i style="background:linear-gradient(90deg,#a22d68 0.5px,#8b276f 46.0px,#642173 88.0px,#41166a 114.0px,#2a1456 127.5px,#150f35 140.0px,#110f1d 143.0px,#100f1c 154.5px,#030308 157.5px,#030308 179.5px,#110f1d 181.5px,#110f1e 187.0px,#140f33 188.0px,#331560 193.5px,#531d71 198.0px,#602173 199.5px)"></i>
<i style="background:linear-gradient(90deg,#a12c69 0.5px,#882670 47.5px,#612173 89.0px,#3f1669 114.0px,#281454 127.5px,#140f32 139.5px,#110f1e 142.0px,#100e1b 154.0px,#030308 157.0px,#040409 179.0px,#110f1d 181.0px,#110f1f 186.5px,#150f35 187.5px,#361563 193.5px,#581f72 198.0px,#642173 199.5px)"></i>
<i style="background:linear-gradient(90deg,#9f2c69 0.5px,#852570 49.0px,#5e2173 90.0px,#3d1568 114.0px,#271451 127.5px,#140f33 138.5px,#110f1e 141.0px,#0f0d1a 153.5px,#030309 156.0px,#04040a 178.5px,#110f1d 180.5px,#110f1d 185.5px,#110f21 186.0px,#150f36 187.0px,#381564 193.0px,#5d2173 198.0px,#692273 199.5px)"></i>
<i style="background:linear-gradient(90deg,#9c2a6b 0.5px,#872670 44.0px,#602173 87.0px,#3f1669 111.5px,#25144f 127.5px,#140f34 137.5px,#110f1f 140.0px,#100e1b 152.5px,#030308 155.5px,#05050b 178.0px,#100e1c 179.5px,#110f1d 185.0px,#130f2f 186.0px,#161038 186.5px,#381564 192.5px,#592072 197.0px,#6f2273 199.5px)"></i>
<i style="background:linear-gradient(90deg,#9a2a6b 0.5px,#832570 45.5px,#5d2173 88.0px,#3d1568 111.5px,#23144d 127.5px,#140f34 136.5px,#110f1d 139.5px,#0f0d1a 152.0px,#030308 155.0px,#030308 177.0px,#110f1d 179.0px,#110f1e 184.5px,#140f33 185.5px,#331560 191.0px,#531d71 195.5px,#742272 199.5px)"></i>
<i style="background:linear-gradient(90deg,#98296c 0.5px,#802571 47.5px,#581f72 90.5px,#3a1566 112.5px,#21144a 127.5px,#150f34 135.5px,#110f1e 138.5px,#100e1b 151.0px,#030308 154.0px,#040409 176.5px,#110f1d 178.5px,#110f1f 184.0px,#150f35 185.0px,#361563 191.0px,#581f72 195.5px,#7a2372 199.5px)"></i>
<i style="background:linear-gradient(90deg,#96296c 0.5px,#7d2471 49.0px,#551e71 91.5px,#381564 112.0px,#21144a 126.5px,#150f35 134.5px,#110f1e 137.5px,#0f0d1a 150.5px,#030308 153.5px,#04040a 176.0px,#110f1d 178.0px,#110f1d 183.0px,#110f21 183.5px,#150f36 184.5px,#361563 190.5px,#551e71 194.5px,#802571 199.5px)"></i>
<i style="background:linear-gradient(90deg,#93286d 0.5px,#802571 41.5px,#592072 86.0px,#3c1567 108.5px,#25144f 123.0px,#140f33 134.0px,#110f1e 136.5px,#100e1b 149.5px,#030308 152.5px,#05050b 175.5px,#100e1c 177.0px,#110f1d 182.5px,#130f2f 183.5px,#161038 184.0px,#381564 190.0px,#592072 194.5px,#872670 199.5px)"></i>
<i style="background:linear-gradient(90deg,#92286d 0.5px,#7b2471 45.5px,#561e72 87.0px,#3a1566 108.5px,#23144d 123.0px,#140f33 133.0px,#110f1f 135.5px,#0f0d1a 149.0px,#030308 152.0px,#030308 174.5px,#110f1d 176.5px,#110f1e 182.0px,#140f33 183.0px,#331560 188.5px,#531d71 193.0px,#882670 199.0px,#8d276f 199.5px)"></i>
<i style="background:linear-gradient(90deg,#90286e 0.5px,#782372 47.0px,#531d71 88.0px,#361563 109.5px,#201348 124.5px,#140f33 132.0px,#110f1e 135.0px,#100e1b 148.0px,#030308 151.0px,#040409 174.0px,#110f1d 176.0px,#110f1f 181.5px,#150f35 182.5px,#361563 188.5px,#581f72 193.0px,#93286d 199.5px)"></i>
<i style="background:linear-gradient(90deg,#8f276e 0.5px,#752372 48.5px,#531d71 86.5px,#381564 107.0px,#23144d 121.0px,#140f34 131.0px,#110f1e 134.0px,#100e1c 147.0px,#030308 150.5px,#04040a 173.5px,#110f1d 175.5px,#110f1d 180.5px,#110f21 181.0px,#150f36 182.0px,#361563 188.0px,#551e71 192.0px,#8f276e 198.5px,#9a2a6b 199.5px)"></i>
<i style="background:linear-gradient(90deg,#8b266f 0.5px,#772372 43.5px,#531d71 84.0px,#381564 106.0px,#21144a 121.0px,#140f34 130.0px,#110f1e 133.0px,#100e1b 146.5px,#030308 149.5px,#05040b 173.0px,#100e1c 174.5px,#110f1d 180.0px,#130f2f 181.0px,#161038 181.5px,#381564 187.5px,#592072 192.0px,#96296c 198.5px,#a22d68 199.5px)"></i>
<i style="background:linear-gradient(90deg,#8a266f 0.5px,#742372 45.5px,#531d71 83.0px,#381564 104.5px,#21144a 120.0px,#140f31 129.5px,#110f1e 132.0px,#100e1c 145.5px,#030308 149.0px,#030308 172.0px,#110f1d 174.0px,#110f1e 179.5px,#140f33 180.5px,#351561 186.5px,#531d71 190.5px,#882670 196.5px,#a92f65 199.5px)"></i>
<i style="background:linear-gradient(90deg,#882670 0.5px,#712373 47.5px,#531d71 81.5px,#381564 103.5px,#21144a 119.0px,#140f32 128.5px,#110f1f 131.0px,#100e1b 145.0px,#030308 148.5px,#040309 171.5px,#110f1d 173.5px,#110f1f 179.0px,#150f35 180.0px,#361563 186.0px,#581f72 190.5px,#93286d 197.0px,#b03263 199.5px)"></i>
<i style="background:linear-gradient(90deg,#872670 0.5px,#6e2273 49.5px,#511c71 81.5px,#361563 103.5px,#201348 119.0px,#150f35 127.0px,#110f1d 130.5px,#100e1c 144.0px,#030308 147.5px,#04040a 171.0px,#110f1d 173.0px,#110f1d 178.0px,#110f21 178.5px,#150f36 179.5px,#361563 185.5px,#551e71 189.5px,#8f276e 196.0px,#b8355f 199.5px)"></i>
<i style="background:linear-gradient(90deg,#852570 0.5px,#6c2273 49.5px,#511c71 80.0px,#361563 102.0px,#201348 118.0px,#150f35 126.0px,#110f1e 129.5px,#100e1b 143.5px,#030308 147.0px,#05040b 170.5px,#100e1c 172.0px,#110f1d 177.5px,#130f2f 178.5px,#161038 179.0px,#381564 185.0px,#592072 189.5px,#96296c 196.0px,#c0395a 199.5px)"></i>
<i style="background:linear-gradient(90deg,#832570 0.5px,#6a2273 49.0px,#511c71 78.0px,#361563 101.0px,#201348 117.0px,#140f33 125.5px,#110f1e 128.5px,#100e1c 142.5px,#030308 146.0px,#030308 169.5px,#110f1d 171.5px,#110f1e 177.0px,#140f33 178.0px,#351561 184.0px,#531d71 188.0px,#882670 194.0px,#b53460 198.0px,#c73e55 199.5px)"></i>
<i style="background:linear-gradient(90deg,#822571 0.5px,#672273 51.0px,#501b70 78.0px,#361563 99.5px,#201348 116.0px,#140f33 124.5px,#110f1e 127.5px,#0f0e1b 142.0px,#030308 145.5px,#040309 169.0px,#110f1d 171.0px,#110f1f 176.5px,#150f35 177.5px,#361563 183.5px,#581f72 188.0px,#93286d 194.5px,#c33b58 198.5px,#cd424f 199.5px)"></i>
<i style="background:linear-gradient(90deg,#802571 0.5px,#662273 50.5px,#4e1a70 78.0px,#351561 99.5px,#201348 115.0px,#140f33 123.5px,#110f1e 126.5px,#100e1c 141.0px,#030308 144.5px,#04040a 168.5px,#110f1d 170.5px,#110f1d 175.5px,#110f21 176.0px,#150f36 177.0px,#361563 183.0px,#551e71 187.0px,#8f276e 193.5px,#be385b 197.5px,#d34848 199.5px)"></i>
<i style="background:linear-gradient(90deg,#7f2471 0.5px,#632173 52.5px,#41166a 88.5px,#2c1558 105.0px,#140f33 122.5px,#110f1d 126.0px,#0f0e1a 140.5px,#030308 144.0px,#05040b 168.0px,#100e1c 169.5px,#110f1d 175.0px,#130f2e 176.0px,#161038 176.5px,#381564 182.5px,#592072 187.0px,#96296c 193.5px,#c63d56 197.5px,#d94d42 199.5px)"></i>
<i style="background:linear-gradient(90deg,#7d2471 0.5px,#612173 52.5px,#41166a 87.0px,#2a1556 105.0px,#140f34 121.5px,#110f1d 125.0px,#100e1b 139.5px,#030308 143.0px,#030308 167.0px,#110f1d 169.0px,#110f1e 174.5px,#140f33 175.5px,#351561 181.5px,#531d71 185.5px,#882670 191.5px,#b53460 195.5px,#df533b 199.5px)"></i>
<i style="background:linear-gradient(90deg,#7a2372 0.5px,#642273 45.5px,#4b196f 76.5px,#31155e 98.5px,#18113b 118.0px,#140f34 120.5px,#110f1e 124.0px,#0f0d1a 139.0px,#030308 142.5px,#040309 166.5px,#110f1d 168.5px,#110f1f 174.0px,#150f35 175.0px,#361563 181.0px,#581f72 185.5px,#93286d 192.0px,#c33b58 196.0px,#e45a37 199.5px)"></i>
<i style="background:linear-gradient(90deg,#782372 0.5px,#612173 48.0px,#41166a 84.0px,#2a1456 103.0px,#140f34 119.5px,#110f1e 123.0px,#100e1b 138.0px,#030308 141.5px,#04040a 166.0px,#110f1d 168.0px,#110f1d 173.0px,#110f21 173.5px,#150f36 174.5px,#361563 180.5px,#551e71 184.5px,#8f276e 191.0px,#be385b 195.0px,#e55c36 199.0px,#e86034 199.5px)"></i>
<i style="background:linear-gradient(90deg,#772372 0.5px,#602173 47.5px,#3f1669 84.0px,#281454 103.0px,#140f34 118.5px,#110f1e 122.0px,#0f0d1a 137.5px,#030308 141.0px,#05040b 165.5px,#100e1c 167.0px,#110f1d 172.5px,#130f2e 173.5px,#161038 174.0px,#381564 180.0px,#592072 184.5px,#96296c 191.0px,#c63d56 195.0px,#e65d36 198.5px,#ed6830 199.5px)"></i>
<i style="background:linear-gradient(90deg,#752372 0.5px,#5e2173 47.5px,#3f1669 82.5px,#281454 101.5px,#140f34 117.5px,#110f1e 121.0px,#100e1b 136.5px,#030308 140.0px,#030308 164.5px,#110f1d 166.5px,#110f1e 172.0px,#140f33 173.0px,#351561 179.0px,#531d71 183.0px,#882670 189.0px,#b53460 193.0px,#df533b 197.0px,#f1712c 199.5px)"></i>
<i style="background:linear-gradient(90deg,#742372 0.5px,#5d2173 47.5px,#3d1568 82.5px,#281454 100.5px,#140f34 116.5px,#110f1e 120.0px,#0f0d1a 136.0px,#030308 139.5px,#040309 164.0px,#110f1d 166.0px,#110f1f 171.5px,#150f35 172.5px,#361563 178.5px,#581f72 183.0px,#93286d 189.5px,#c33b58 193.5px,#e45a37 197.0px,#f47a27 199.5px)"></i>
<i style="background:linear-gradient(90deg,#722272 0.5px,#5b2172 47.0px,#3d1568 81.0px,#281454 99.0px,#140f34 115.5px,#110f1e 119.0px,#0f0e1b 135.0px,#030308 138.5px,#04040a 163.5px,#110f1d 165.5px,#110f1d 170.5px,#110f21 171.0px,#150f36 172.0px,#361563 178.0px,#551e71 182.0px,#8f276e 188.5px,#be385b 192.5px,#e55c36 196.5px,#f47c26 199.0px,#f68422 199.5px)"></i>
<i style="background:linear-gradient(90deg,#712273 0.5px,#581f72 49.5px,#3c1567 81.0px,#25144f 101.0px,#140f34 114.5px,#110f1e 118.0px,#100e1c 134.0px,#030308 138.0px,#05040b 163.0px,#100e1c 164.5px,#110f1d 170.0px,#130f2e 171.0px,#161038 171.5px,#381564 177.5px,#592072 182.0px,#96296c 188.5px,#c63d56 192.5px,#e65d36 196.0px,#f57d26 198.5px,#f88e1e 199.5px)"></i>
<i style="background:linear-gradient(90deg,#6f2273 0.5px,#581f72 47.0px,#3c1567 79.5px,#25144f 99.5px,#140f33 113.5px,#110f1e 117.0px,#0f0e1a 133.5px,#030308 137.0px,#030308 162.0px,#110f1d 164.0px,#110f1e 169.5px,#140f33 170.5px,#351561 176.5px,#531d71 180.5px,#882670 186.5px,#b53460 190.5px,#df533b 194.5px,#f37729 197.5px,#fa9919 199.5px)"></i>
<i style="background:linear-gradient(90deg,#6e2273 0.5px,#551e71 49.0px,#3a1566 79.5px,#25144f 98.5px,#140f33 112.5px,#110f1e 116.0px,#100e1b 132.5px,#030308 136.5px,#040309 161.5px,#110f1d 163.5px,#110f1f 169.0px,#150f35 170.0px,#361563 176.0px,#581f72 180.5px,#93286d 187.0px,#c33b58 191.0px,#e45a37 194.5px,#f58024 197.5px,#fa9b19 199.0px,#fba41d 199.5px)"></i>
<i style="background:linear-gradient(90deg,#6c2273 0.5px,#531d71 49.0px,#381564 80.0px,#21144a 100.0px,#140f33 111.5px,#110f1e 115.0px,#0f0d1a 132.0px,#030308 135.5px,#04040a 161.0px,#110f1d 163.0px,#110f1d 168.0px,#110f21 168.5px,#150f36 169.5px,#361563 175.5px,#551e71 179.5px,#8f276e 186.0px,#be385b 190.0px,#e55c36 194.0px,#f47c26 196.5px,#fa9d19 198.5px,#fbb227 199.5px)"></i>
<i style="background:linear-gradient(90deg,#6a2273 0.5px,#531d71 47.0px,#381564 78.0px,#21144a 99.0px,#140f33 110.5px,#110f1e 114.0px,#100e1b 131.0px,#030308 135.0px,#05040b 160.5px,#100e1c 162.0px,#110f1d 167.5px,#130f2e 168.5px,#161038 169.0px,#381564 175.0px,#592072 179.5px,#96296c 186.0px,#c63d56 190.0px,#e65d36 193.5px,#f57d26 196.0px,#f9971a 197.5px,#fbaa21 198.5px,#fabe2f 199.5px)"></i>
<i style="background:linear-gradient(90deg,#692273 0.5px,#511c71 47.0px,#361563 78.5px,#21144a 97.5px,#140f32 109.5px,#110f1e 113.0px,#100e1c 130.0px,#030308 134.0px,#030308 159.5px,#110f1d 161.5px,#110f1e 167.0px,#140f33 168.0px,#351561 174.0px,#531d71 178.0px,#822571 183.5px,#b53460 188.0px,#df533b 192.0px,#f37729 195.0px,#fa9919 197.0px,#fbb629 198.5px,#f8cd3b 199.5px)"></i>
<i style="background:linear-gradient(90deg,#672273 0.5px,#511c71 44.5px,#381564 75.0px,#21144a 96.5px,#140f32 108.5px,#110f1e 112.0px,#0f0d1a 129.5px,#030308 133.5px,#040309 159.0px,#110f1d 161.0px,#110f1f 166.5px,#150f35 167.5px,#361563 173.5px,#581f72 178.0px,#93286d 184.5px,#c33b58 188.5px,#e45a37 192.0px,#f58024 195.0px,#fa9b19 196.5px,#fbae24 197.5px,#f8cf3d 199.0px,#f5db4c 199.5px)"></i>
<i style="background:linear-gradient(90deg,#662273 0.5px,#501b70 44.5px,#361563 75.0px,#21144a 95.0px,#140f34 107.0px,#110f1e 111.0px,#100e1b 128.5px,#030308 132.5px,#04040a 158.5px,#110f1d 160.5px,#110f1d 165.5px,#110f21 166.0px,#150f36 167.0px,#361563 173.0px,#551e71 177.0px,#8f276e 183.5px,#be385b 187.5px,#e55c36 191.5px,#f68224 194.5px,#fa9d19 196.0px,#f9c735 198.0px,#f4dd4f 199.0px,#f2e865 199.5px)"></i>
<i style="background:linear-gradient(90deg,#642273 0.5px,#4e1a70 44.5px,#351561 75.5px,#1e1345 97.0px,#140f31 106.5px,#110f1e 110.0px,#0f0d1a 128.0px,#030308 132.0px,#05040b 158.0px,#100e1c 159.5px,#110f1d 165.0px,#130f2e 166.0px,#161038 166.5px,#381564 172.5px,#592072 177.0px,#96296c 183.5px,#c63d56 187.5px,#e65d36 191.0px,#f57d26 193.5px,#f9971a 195.0px,#fbaa21 196.0px,#f8cb39 197.5px,#f6d543 198.0px,#f2ea69 199.0px,#f2f482 199.5px)"></i>
<i style="background:linear-gradient(90deg,#632173 0.5px,#49186e 49.0px,#31155e 77.0px,#1b1240 99.0px,#140f33 105.0px,#110f1e 109.0px,#0f0e1b 127.0px,#030308 131.0px,#030308 157.0px,#110f1d 159.0px,#110f1e 164.5px,#140f33 165.5px,#351561 171.5px,#531d71 175.5px,#822571 181.0px,#b53460 185.5px,#df533b 189.5px,#f37729 192.5px,#fa9919 194.5px,#fbb629 196.0px,#f6d746 197.5px,#f3f586 199.0px,#f9fc9d 199.5px)"></i>
<i style="background:linear-gradient(90deg,#602173 0.5px,#4b196f 44.5px,#331560 74.0px,#1c1242 96.0px,#140f32 104.0px,#110f1e 108.0px,#100e1b 126.0px,#030308 130.5px,#040309 156.5px,#110f1d 158.5px,#110f1f 164.0px,#150f35 165.0px,#361563 171.0px,#581f72 175.5px,#93286d 182.0px,#c33b58 186.0px,#e45a37 189.5px,#f58024 192.5px,#fa9b19 194.0px,#fbae24 195.0px,#f8cf3d 196.5px,#f3e55d 197.5px,#f4f88e 198.5px,#fcffa4 199.0px,#ffffff 199.5px)"></i>
<i style="background:linear-gradient(90deg,#5e2173 0.5px,#49186e 44.5px,#331560 72.0px,#1e1345 93.0px,#140f34 102.5px,#110f1e 107.0px,#0f0d1a 125.5px,#030308 129.5px,#04040a 156.0px,#110f1d 158.0px,#110f1d 163.0px,#110f21 163.5px,#150f36 164.5px,#361563 170.5px,#551e71 174.5px,#8f276e 181.0px,#be385b 185.0px,#e55c36 189.0px,#f68224 192.0px,#fa9d19 193.5px,#f9c735 195.5px,#f4dd4f 196.5px,#f2f27d 197.5px,#f5f992 198.0px,#feffdf 198.5px,#ffffff 199.0px,#ffffff 199.5px)"></i>
<i style="background:linear-gradient(90deg,#5d2173 0.5px,#48186d 44.5px,#31155e 72.5px,#1b1240 95.0px,#140f31 102.0px,#110f1e 105.5px,#0f0e1b 124.5px,#030308 129.0px,#05040b 155.5px,#100e1c 157.0px,#110f1d 162.5px,#130f2e 163.5px,#161038 164.0px,#381564 170.0px,#592072 174.5px,#96296c 181.0px,#c63d56 185.0px,#e65d36 188.5px,#f57d26 191.0px,#f9971a 192.5px,#fbaa21 193.5px,#f8cb39 195.0px,#f6d543 195.5px,#f2ea69 196.5px,#f8fb9a 197.5px,#ffffff 198.0px,#ffffff 199.5px)"></i>
<i style="background:linear-gradient(90deg,#5b2072 0.5px,#46176d 44.5px,#2f155c 72.5px,#19113d 95.5px,#140f33 100.5px,#110f1e 104.5px,#100e1b 123.5px,#030308 128.0px,#030308 154.5px,#110f1d 156.5px,#110f1e 162.0px,#140f33 163.0px,#351561 169.0px,#531d71 173.0px,#822571 178.5px,#b53460 183.0px,#df533b 187.0px,#f37729 190.0px,#fa991a 192.0px,#fbb629 193.5px,#f6d746 195.0px,#f3f586 196.5px,#f9fc9d 197.0px,#ffffff 197.5px,#ffffff 199.5px)"></i>
<i style="background:linear-gradient(90deg,#592072 0.5px,#44176c 44.5px,#2f155c 71.0px,#161038 98.0px,#110f1e 103.5px,#0f0d1a 123.0px,#030308 127.0px,#040309 154.0px,#110f1d 156.0px,#110f1f 161.5px,#150f35 162.5px,#361563 168.5px,#581f72 173.0px,#93286d 179.5px,#c33b58 183.5px,#e45a37 187.0px,#f58024 190.0px,#fa9b19 191.5px,#fbae24 192.5px,#f8cf3d 194.0px,#f3e55d 195.0px,#f4f88e 196.0px,#fcffa4 196.5px,#ffffff 197.0px,#ffffff 199.5px)"></i>
<i style="background:linear-gradient(90deg,#581f72 0.5px,#42166b 44.5px,#2d155a 71.0px,#161038 96.5px,#110f1d 103.0px,#0f0e1a 122.0px,#030308 126.5px,#04040a 153.5px,#110f1d 155.5px,#110f1d 160.5px,#110f21 161.0px,#150f36 162.0px,#361563 168.0px,#551e71 172.0px,#8f276e 178.5px,#be385b 182.5px,#e55c36 186.5px,#f68224 189.5px,#fa9d1a 191.0px,#f9c735 193.0px,#f4dd4f 194.0px,#f1f179 195.0px,#f5f992 195.5px,#feffde 196.0px,#ffffff 196.5px,#ffffff 199.5px)"></i>
<i style="background:linear-gradient(90deg,#561f72 0.5px,#3f1669 47.5px,#2a1456 73.5px,#150f34 96.5px,#110f1d 101.5px,#100e1b 121.0px,#030308 125.5px,#05040b 153.0px,#100e1c 154.5px,#110f1d 160.0px,#130f2e 161.0px,#161038 161.5px,#381564 167.5px,#592072 172.0px,#96296c 178.5px,#c63d56 182.5px,#e65d36 186.0px,#f57d26 188.5px,#f9971a 190.0px,#fbaa21 191.0px,#f8cb3a 192.5px,#f6d543 193.0px,#f2ea69 194.0px,#f8fb9a 195.0px,#ffffff 195.5px,#ffffff 199.5px)"></i>
</div>
<div style="position:absolute;left:318px;top:18px;width:15px;height:192px;background:linear-gradient(180deg,#ffffff 0.0px,#fffffd 1.5px,#fdffbc 2.5px,#fcffa4 3.0px,#f9fc9d 4.0px,#f8fb9a 5.0px,#f5f992 6.5px,#f3f68a 7.5px,#f3f68a 8.0px,#f2f482 9.0px,#f2f482 9.5px,#f1f179 10.5px,#f1f179 11.0px,#f1ed71 12.0px,#f1ed71 12.5px,#f2ea69 13.5px,#f2e865 14.5px,#f3e55d 15.5px,#f3e35a 16.5px,#f4dd4f 18.5px,#f5db4c 19.5px,#f7d341 22.0px,#fab82a 31.5px,#fa9f1a 41.0px,#f88e1e 48.0px,#ee6b2f 63.5px,#de523c 78.5px,#c0395a 95.5px,#90276e 116.5px,#5b2172 141.5px,#41166a 153.0px,#2d155a 161.0px,#22144a 166.0px,#161038 171.5px,#130f2c 172.5px,#0e0b1a 173.0px,#0e0b1a 192.0px)"></div>
<svg style="position:absolute;left:0;top:0" width="448" height="252" viewBox="0 0 448 252"><rect x="111.70" y="17.00" width="200.50" height="192.60" fill="none" stroke="#000" stroke-width="1.6"/><line x1="107.90" y1="209.60" x2="111.70" y2="209.60" stroke="#000" stroke-width="1.4"/><line x1="109.50" y1="203.18" x2="111.70" y2="203.18" stroke="#000" stroke-width="1.2"/><line x1="109.50" y1="196.76" x2="111.70" y2="196.76" stroke="#000" stroke-width="1.2"/><line x1="109.50" y1="190.34" x2="111.70" y2="190.34" stroke="#000" stroke-width="1.2"/><line x1="109.50" y1="183.92" x2="111.70" y2="183.92" stroke="#000" stroke-width="1.2"/><line x1="107.90" y1="177.50" x2="111.70" y2="177.50" stroke="#000" stroke-width="1.4"/><line x1="109.50" y1="171.08" x2="111.70" y2="171.08" stroke="#000" stroke-width="1.2"/><line x1="109.50" y1="164.66" x2="111.70" y2="164.66" stroke="#000" stroke-width="1.2"/><line x1="109.50" y1="158.24" x2="111.70" y2="158.24" stroke="#000" stroke-width="1.2"/><line x1="109.50" y1="151.82" x2="111.70" y2="151.82" stroke="#000" stroke-width="1.2"/><line x1="107.90" y1="145.40" x2="111.70" y2="145.40" stroke="#000" stroke-width="1.4"/><line x1="109.50" y1="138.98" x2="111.70" y2="138.98" stroke="#000" stroke-width="1.2"/><line x1="109.50" y1="132.56" x2="111.70" y2="132.56" stroke="#000" stroke-width="1.2"/><line x1="109.50" y1="126.14" x2="111.70" y2="126.14" stroke="#000" stroke-width="1.2"/><line x1="109.50" y1="119.72" x2="111.70" y2="119.72" stroke="#000" stroke-width="1.2"/><line x1="107.90" y1="113.30" x2="111.70" y2="113.30" stroke="#000" stroke-width="1.4"/><line x1="109.50" y1="106.88" x2="111.70" y2="106.88" stroke="#000" stroke-width="1.2"/><line x1="109.50" y1="100.46" x2="111.70" y2="100.46" stroke="#000" stroke-width="1.2"/><line x1="109.50" y1="94.04" x2="111.70" y2="94.04" stroke="#000" stroke-width="1.2"/><line x1="109.50" y1="87.62" x2="111.70" y2="87.62" stroke="#000" stroke-width="1.2"/><line x1="107.90" y1="81.20" x2="111.70" y2="81.20" stroke="#000" stroke-width="1.4"/><line x1="109.50" y1="74.78" x2="111.70" y2="74.78" stroke="#000" stroke-width="1.2"/><line x1="109.50" y1="68.36" x2="111.70" y2="68.36" stroke="#000" stroke-width="1.2"/><line x1="109.50" y1="61.94" x2="111.70" y2="61.94" stroke="#000" stroke-width="1.2"/><line x1="109.50" y1="55.52" x2="111.70" y2="55.52" stroke="#000" stroke-width="1.2"/><line x1="107.90" y1="49.10" x2="111.70" y2="49.10" stroke="#000" stroke-width="1.4"/><line x1="109.50" y1="42.68" x2="111.70" y2="42.68" stroke="#000" stroke-width="1.2"/><line x1="109.50" y1="36.26" x2="111.70" y2="36.26" stroke="#000" stroke-width="1.2"/><line x1="109.50" y1="29.84" x2="111.70" y2="29.84" stroke="#000" stroke-width="1.2"/><line x1="109.50" y1="23.42" x2="111.70" y2="23.42" stroke="#000" stroke-width="1.2"/><line x1="107.90" y1="17.00" x2="111.70" y2="17.00" stroke="#000" stroke-width="1.4"/><line x1="111.70" y1="209.60" x2="111.70" y2="213.20" stroke="#000" stroke-width="1.4"/><line x1="119.72" y1="209.60" x2="119.72" y2="211.80" stroke="#000" stroke-width="1.2"/><line x1="127.74" y1="209.60" x2="127.74" y2="211.80" stroke="#000" stroke-width="1.2"/><line x1="135.76" y1="209.60" x2="135.76" y2="211.80" stroke="#000" stroke-width="1.2"/><line x1="143.78" y1="209.60" x2="143.78" y2="211.80" stroke="#000" stroke-width="1.2"/><line x1="151.80" y1="209.60" x2="151.80" y2="213.20" stroke="#000" stroke-width="1.4"/><line x1="159.82" y1="209.60" x2="159.82" y2="211.80" stroke="#000" stroke-width="1.2"/><line x1="167.84" y1="209.60" x2="167.84" y2="211.80" stroke="#000" stroke-width="1.2"/><line x1="175.86" y1="209.60" x2="175.86" y2="211.80" stroke="#000" stroke-width="1.2"/><line x1="183.88" y1="209.60" x2="183.88" y2="211.80" stroke="#000" stroke-width="1.2"/><line x1="191.90" y1="209.60" x2="191.90" y2="213.20" stroke="#000" stroke-width="1.4"/><line x1="199.92" y1="209.60" x2="199.92" y2="211.80" stroke="#000" stroke-width="1.2"/><line x1="207.94" y1="209.60" x2="207.94" y2="211.80" stroke="#000" stroke-width="1.2"/><line x1="215.96" y1="209.60" x2="215.96" y2="211.80" stroke="#000" stroke-width="1.2"/><line x1="223.98" y1="209.60" x2="223.98" y2="211.80" stroke="#000" stroke-width="1.2"/><line x1="232.00" y1="209.60" x2="232.00" y2="213.20" stroke="#000" stroke-width="1.4"/><line x1="240.02" y1="209.60" x2="240.02" y2="211.80" stroke="#000" stroke-width="1.2"/><line x1="248.04" y1="209.60" x2="248.04" y2="211.80" stroke="#000" stroke-width="1.2"/><line x1="256.06" y1="209.60" x2="256.06" y2="211.80" stroke="#000" stroke-width="1.2"/><line x1="264.08" y1="209.60" x2="264.08" y2="211.80" stroke="#000" stroke-width="1.2"/><line x1="272.10" y1="209.60" x2="272.10" y2="213.20" stroke="#000" stroke-width="1.4"/><line x1="280.12" y1="209.60" x2="280.12" y2="211.80" stroke="#000" stroke-width="1.2"/><line x1="288.14" y1="209.60" x2="288.14" y2="211.80" stroke="#000" stroke-width="1.2"/><line x1="296.16" y1="209.60" x2="296.16" y2="211.80" stroke="#000" stroke-width="1.2"/><line x1="304.18" y1="209.60" x2="304.18" y2="211.80" stroke="#000" stroke-width="1.2"/><line x1="312.20" y1="209.60" x2="312.20" y2="213.20" stroke="#000" stroke-width="1.4"/><rect x="317.5" y="17.5" width="15.7" height="92.3" fill="none"/><rect x="317.4" y="17.4" width="15.9" height="192.4" rx="1.2" fill="none" stroke="#000" stroke-width="1.7"/><line x1="333.3" y1="206.20" x2="337.2" y2="206.20" stroke="#000" stroke-width="1.4"/><line x1="333.3" y1="187.62" x2="337.2" y2="187.62" stroke="#000" stroke-width="1.4"/><line x1="333.3" y1="169.04" x2="337.2" y2="169.04" stroke="#000" stroke-width="1.4"/><line x1="333.3" y1="150.46" x2="337.2" y2="150.46" stroke="#000" stroke-width="1.4"/><line x1="333.3" y1="131.88" x2="337.2" y2="131.88" stroke="#000" stroke-width="1.4"/><line x1="333.3" y1="113.30" x2="337.2" y2="113.30" stroke="#000" stroke-width="1.4"/><line x1="333.3" y1="94.72" x2="337.2" y2="94.72" stroke="#000" stroke-width="1.4"/><line x1="333.3" y1="76.14" x2="337.2" y2="76.14" stroke="#000" stroke-width="1.4"/><line x1="333.3" y1="57.56" x2="337.2" y2="57.56" stroke="#000" stroke-width="1.4"/><line x1="333.3" y1="38.98" x2="337.2" y2="38.98" stroke="#000" stroke-width="1.4"/><line x1="333.3" y1="20.40" x2="337.2" y2="20.40" stroke="#000" stroke-width="1.4"/><text x="105.2" y="213.90" text-anchor="end" font-size="12" font-family="&apos;Liberation Sans&apos;, Arial, sans-serif" stroke="#000" stroke-width="0.3">270</text><text x="105.2" y="181.80" text-anchor="end" font-size="12" font-family="&apos;Liberation Sans&apos;, Arial, sans-serif" stroke="#000" stroke-width="0.3">280</text><text x="105.2" y="149.70" text-anchor="end" font-size="12" font-family="&apos;Liberation Sans&apos;, Arial, sans-serif" stroke="#000" stroke-width="0.3">290</text><text x="105.2" y="117.60" text-anchor="end" font-size="12" font-family="&apos;Liberation Sans&apos;, Arial, sans-serif" stroke="#000" stroke-width="0.3">300</text><text x="105.2" y="85.50" text-anchor="end" font-size="12" font-family="&apos;Liberation Sans&apos;, Arial, sans-serif" stroke="#000" stroke-width="0.3">310</text><text x="105.2" y="53.40" text-anchor="end" font-size="12" font-family="&apos;Liberation Sans&apos;, Arial, sans-serif" stroke="#000" stroke-width="0.3">320</text><text x="105.2" y="21.30" text-anchor="end" font-size="12" font-family="&apos;Liberation Sans&apos;, Arial, sans-serif" stroke="#000" stroke-width="0.3">330</text><text x="111.70" y="226.2" text-anchor="middle" font-size="12" font-family="&apos;Liberation Sans&apos;, Arial, sans-serif" stroke="#000" stroke-width="0.3">200</text><text x="151.80" y="226.2" text-anchor="middle" font-size="12" font-family="&apos;Liberation Sans&apos;, Arial, sans-serif" stroke="#000" stroke-width="0.3">220</text><text x="191.90" y="226.2" text-anchor="middle" font-size="12" font-family="&apos;Liberation Sans&apos;, Arial, sans-serif" stroke="#000" stroke-width="0.3">240</text><text x="232.00" y="226.2" text-anchor="middle" font-size="12" font-family="&apos;Liberation Sans&apos;, Arial, sans-serif" stroke="#000" stroke-width="0.3">260</text><text x="272.10" y="226.2" text-anchor="middle" font-size="12" font-family="&apos;Liberation Sans&apos;, Arial, sans-serif" stroke="#000" stroke-width="0.3">280</text><text x="312.20" y="226.2" text-anchor="middle" font-size="12" font-family="&apos;Liberation Sans&apos;, Arial, sans-serif" stroke="#000" stroke-width="0.3">300</text><text x="340.2" y="210.30" font-size="10" font-family="&apos;Liberation Sans&apos;, Arial, sans-serif" stroke="#000" stroke-width="0.3">0.000</text><text x="340.2" y="191.72" font-size="10" font-family="&apos;Liberation Sans&apos;, Arial, sans-serif" stroke="#000" stroke-width="0.3">2.000</text><text x="340.2" y="173.14" font-size="10" font-family="&apos;Liberation Sans&apos;, Arial, sans-serif" stroke="#000" stroke-width="0.3">4.000</text><text x="340.2" y="154.56" font-size="10" font-family="&apos;Liberation Sans&apos;, Arial, sans-serif" stroke="#000" stroke-width="0.3">6.000</text><text x="340.2" y="135.98" font-size="10" font-family="&apos;Liberation Sans&apos;, Arial, sans-serif" stroke="#000" stroke-width="0.3">8.000</text><text x="340.2" y="117.40" font-size="10" font-family="&apos;Liberation Sans&apos;, Arial, sans-serif" stroke="#000" stroke-width="0.3">10.00</text><text x="340.2" y="98.82" font-size="10" font-family="&apos;Liberation Sans&apos;, Arial, sans-serif" stroke="#000" stroke-width="0.3">12.00</text><text x="340.2" y="80.24" font-size="10" font-family="&apos;Liberation Sans&apos;, Arial, sans-serif" stroke="#000" stroke-width="0.3">14.00</text><text x="340.2" y="61.66" font-size="10" font-family="&apos;Liberation Sans&apos;, Arial, sans-serif" stroke="#000" stroke-width="0.3">16.00</text><text x="340.2" y="43.08" font-size="10" font-family="&apos;Liberation Sans&apos;, Arial, sans-serif" stroke="#000" stroke-width="0.3">18.00</text><text x="340.2" y="24.50" font-size="10" font-family="&apos;Liberation Sans&apos;, Arial, sans-serif" stroke="#000" stroke-width="0.3">20.00</text><text x="87.7" y="248.8" font-size="16.3" letter-spacing="0.07" font-family="&apos;Liberation Sans&apos;, Arial, sans-serif" stroke="#000" stroke-width="0.3">Emissive Surface Temperature [K]</text><text transform="translate(78.0,195.9) rotate(-90)" x="0" y="0" font-size="16.5" font-family="&apos;Liberation Sans&apos;, Arial, sans-serif" stroke="#000" stroke-width="0.3">Diode Temperature [K]</text><text x="267.2" y="10.7" font-size="11" font-family="&apos;Liberation Sans&apos;, Arial, sans-serif" stroke="#000" stroke-width="0.3">Power Density [mW/m<tspan font-size="7" dy="-4.2">2</tspan><tspan dy="4.2">]</tspan></text></svg>
</body></html>
